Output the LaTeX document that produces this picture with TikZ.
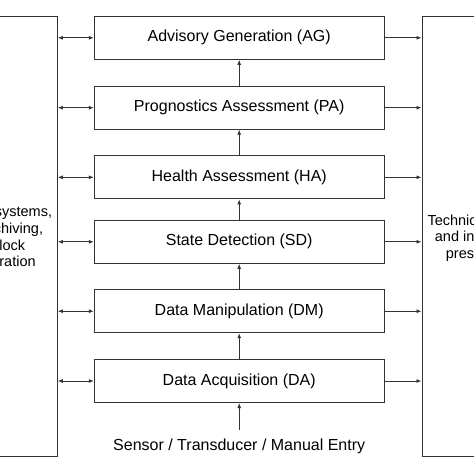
\documentclass[tikz,border=0pt]{standalone}
\usepackage{fontspec}
\setmainfont{Liberation Sans}
\usetikzlibrary{arrows.meta}
\begin{document}
\begin{tikzpicture}[x=1pt,y=-1pt,
  every node/.style={font=\fontsize{16}{19}\selectfont},
  layerbox/.style={draw=black!80, line width=1pt, minimum width=289.7pt, minimum height=43pt, inner sep=0pt},
  sidebox/.style={draw=black!80, line width=1pt, inner sep=0pt},
  sidetext/.style={inner sep=0pt, font=\fontsize{14.5}{17}\selectfont},
  conn/.style={draw=black!80, line width=0.9pt, -{Latex[length=5pt,width=4pt]}},
  dconn/.style={draw=black!80, line width=0.9pt, {Latex[length=5pt,width=4pt]}-{Latex[length=5pt,width=4pt]}}
]
\useasboundingbox (0,0) rectangle (474,474);
\clip (0,0) rectangle (474,474);
\fill[white] (0,0) rectangle (474,474);

% side boxes
\node[sidebox, minimum width=87.3pt, minimum height=439.3pt] (L) at (13.65,236.35) {};
\node[sidebox, minimum width=82pt, minimum height=439.3pt] (R) at (463,236.35) {};

% layers
\node[layerbox] (AG) at (239.2,37.8) {Advisory Generation (AG)};
\node[layerbox] (PA) at (239.2,107.7) {Prognostics Assessment (PA)};
\node[layerbox] (HA) at (239.2,177.3) {Health Assessment (HA)};
\node[layerbox] (SD) at (239.2,241.8) {State Detection (SD)};
\node[layerbox] (DM) at (239.2,311.2) {Data Manipulation (DM)};
\node[layerbox] (DA) at (239.2,381.0) {Data Acquisition (DA)};
\node[inner sep=0pt] (S) at (239.2,446) {Sensor / Transducer / Manual Entry};

% side texts
\node[sidetext, anchor=base east] (l1) at (52.3,216.7) {External systems,};
\node[sidetext, anchor=base east] (l2) at (43.3,233.2) {data archiving,};
\node[sidetext, anchor=base east] (l3) at (25.3,250) {block};
\node[sidetext, anchor=base east] (l4) at (35.9,266.7) {configuration};
\node[sidetext, anchor=base west] (r1) at (427.3,225) {Technical displays};
\node[sidetext, anchor=base west] (r2) at (434.7,241.7) {and information};
\node[sidetext, anchor=base west] (r3) at (445.7,258.3) {presentation};

% vertical flow
\coordinate (Stop) at (239.2,429.7);
\draw[conn] (Stop) -- (DA.south);
\draw[conn] (DA.north) -- (DM.south);
\draw[conn] (DM.north) -- (SD.south);
\draw[conn] (SD.north) -- (HA.south);
\draw[conn] (HA.north) -- (PA.south);
\draw[conn] (PA.north) -- (AG.south);

% left double arrows and right arrows
\foreach \n in {AG,PA,HA,SD,DM,DA}{
  \draw[dconn] (L.east |- \n.west) -- (\n.west);
  \draw[conn] (\n.east) -- (\n.east -| R.west);
}
\end{tikzpicture}
\end{document}
